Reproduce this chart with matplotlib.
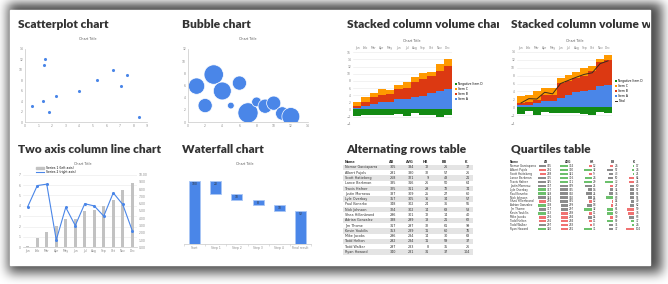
import numpy as np
import matplotlib.pyplot as plt
from matplotlib.patches import Rectangle
from matplotlib.lines import Line2D

W, H = 668, 284
BLUE = '#4a86e8'
GREEN = '#138a13'
ORANGE = '#ff9900'
RED = '#dc3912'
TXT = '#888888'

#--------------------
# data

scatter_x = [0.5, 1.4, 1.5, 1.35, 1.75, 2.3, 4.0, 5.3, 6.5, 7.1, 7.5, 8.4]
scatter_y = [3, 11, 12, 4, 2, 5, 6, 8, 10, 7, 9, 1]

bubble_x = [1, 2, 3, 4, 5, 6, 7, 8, 9, 10, 11, 12]
bubble_y = [5.9, 2.7, 7.8, 5.1, 2.7, 6.4, 1.5, 3.3, 2.6, 3.1, 1.4, 0.9]
bubble_size = [53, 40, 75, 64, 9, 40, 81, 19, 40, 40, 36, 64]

months = ['Jan', 'Feb', 'Mar', 'Apr', 'May', 'Jun',
          'Jul', 'Aug', 'Sep', 'Oct', 'Nov', 'Dec']

vol_a = [0.3, 0.9, 1.6, 2.0, 2.2, 3.0, 3.0, 3.5, 3.7, 4.5, 5.1, 5.7]
vol_b = [0.6, 1.3, 1.9, 2.0, 2.1, 2.6, 3.1, 4.1, 4.9, 5.0, 5.8, 6.5]
vol_c = [1.2, 1.3, 1.1, 1.6, 1.1, 1.2, 1.6, 1.5, 1.5, 1.1, 1.7, 1.9]
vol_d = [-1.9, -1.6, -1.6, -1.7, -1.5, -1.2, -1.9, -1.1, -1.5, -1.6, -2.2, -1.6]

tot_a = [0.5, 0.7, 1.1, 1.7, 1.7, 2.3, 3.0, 3.8, 4.0, 4.4, 5.3, 5.7]
tot_b = [0.6, 0.6, 0.8, 1.5, 1.3, 3.8, 3.7, 3.6, 4.0, 4.8, 6.1, 6.2]
tot_c = [1.7, 1.9, 2.1, 1.8, 1.9, 1.4, 1.5, 1.5, 1.9, 1.3, 0.8, 1.3]
tot_d = [-1.7, -1.0, -1.9, -1.2, -1.5, -1.5, -1.4, -1.3, -1.6, -1.8, -1.2, -1.5]

series1 = [0.1, 0.9, 1.5, 2.1, 2.7, 2.7, 3.5, 3.6, 4.0, 4.6, 5.5, 6.2]
series2 = [5.6, 8.5, 8.7, 1.0, 5.5, 3.0, 6.0, 5.7, 4.3, 7.5, 5.9, 2.3]

wf_labels = ['Start', 'Step 1', 'Step 2', 'Step 3', 'Step 4', 'Final result']
wf_start = 100
wf_steps = [-20, -10, -8, -10]

names = ['Nomar Garciaparra', 'Albert Pujols', 'Scott Hatteberg', 'Lance Berkman',
         'Travis Hafner', 'Justin Morneau', 'Lyle Overbay', 'Paul Konerko',
         'Nick Johnson', 'Shea Hillenbrand', 'Adrian Gonzalez', 'Jim Thome',
         'Kevin Youkilis', 'Mike Jacobs', 'Todd Helton', 'Todd Walker', 'Ryan Howard']
ab = [305, 291, 268, 335, 325, 337, 357, 348, 324, 296, 338, 317, 353, 296, 292, 297, 340]
avg = [334, 330, 321, 316, 311, 309, 305, 302, 302, 301, 299, 297, 289, 284, 284, 283, 281]
hr = [12, 32, 9, 26, 29, 25, 16, 24, 14, 12, 18, 32, 11, 14, 11, 8, 31]
bb = [26, 57, 43, 50, 72, 27, 34, 36, 63, 14, 21, 61, 60, 30, 59, 35, 37]
k = [17, 26, 21, 64, 74, 60, 57, 56, 53, 40, 62, 99, 76, 63, 37, 26, 104]
stat_cols = ['AB', 'AVG', 'HR', 'BB', 'K']


#--------------------
# helpers

def px_axes(x0, y0, x1, y1):
    return fig.add_axes([x0 / W, 1 - y1 / H, (x1 - x0) / W, (y1 - y0) / H])


def tiny(ax, spines=('left', 'bottom')):
    ax.tick_params(labelsize=2.2, length=0, pad=1.5, colors=TXT)
    for name, s in ax.spines.items():
        s.set_visible(name in spines)
        s.set_color('#c8c8c8')
        s.set_linewidth(0.5)


def hgrid(ax):
    ax.grid(axis='y', color='#e8e8e8', linewidth=0.4)
    ax.set_axisbelow(True)


def small_title(x, y, s='Chart Title'):
    bg.text(x, y, s, fontsize=2.4, color='#555555', ha='center', va='center')


def big_title(x, y, s, clip_x=None):
    t = bg.text(x, y, s, fontsize=8.6, fontweight='heavy', color='#333333',
                family='Lato', va='baseline', ha='left')
    if clip_x is not None:
        t.set_clip_on(True)
        t.set_clip_path(Rectangle((0, 0), clip_x, H, transform=bg.transData))


def volume(ax, a, b, c, d):
    x = np.arange(len(months))
    a, b, c = np.array(a), np.array(b), np.array(c)
    ax.bar(x, d, width=1, color=GREEN, linewidth=0, label='Negative Item D')
    ax.bar(x, a, width=1, color=BLUE, linewidth=0, label='Item A')
    ax.bar(x, b, width=1, bottom=a, color=RED, linewidth=0, label='Item B')
    ax.bar(x, c, width=1, bottom=a + b, color=ORANGE, linewidth=0, label='Item C')
    ax.set_xlim(-0.5, len(months) - 0.5)
    ax.set_xticks(x, months)
    ax.xaxis.tick_top()
    hgrid(ax)
    tiny(ax, spines=())


#--------------------
# figure + card

fig = plt.figure(figsize=(W / 100, H / 100), dpi=100)
bg = fig.add_axes([0, 0, 1, 1])
bg.set_xlim(0, W)
bg.set_ylim(H, 0)
bg.axis('off')

yy, xx = np.mgrid[0:H, 0:W]
mask = ((xx >= 8) & (xx < 662) & (yy >= 2) & (yy < 273)).astype(float)
kern = np.ones(11) / 11
for _ in range(3):
    mask = np.apply_along_axis(lambda r: np.convolve(r, kern, mode='same'), 1, mask)
    mask = np.apply_along_axis(lambda r: np.convolve(r, kern, mode='same'), 0, mask)
shadow = np.zeros((H, W, 4))
shadow[..., 3] = mask * 0.7
bg.imshow(shadow, extent=(0, W, H, 0), aspect='auto', interpolation='bilinear')
bg.add_patch(Rectangle((10, 10), 640, 255, color='white', zorder=2))

# card titles
big_title(18, 27.5, 'Scatterplot chart')
big_title(182, 27.5, 'Bubble chart')
big_title(347, 27.5, 'Stacked column volume chart', clip_x=499)
big_title(511, 27.5, 'Stacked column volume with total line chart', clip_x=650)
big_title(18, 153, 'Two axis column line chart')
big_title(182, 153, 'Waterfall chart')
big_title(346, 153, 'Alternating rows table')
big_title(511, 153, 'Quartiles table')

#--------------------
# scatterplot

small_title(88, 39.5)
ax = px_axes(25, 49, 147, 122)
ax.scatter(scatter_x, scatter_y, s=5, color=BLUE, linewidths=0)
ax.set_xlim(0, 9)
ax.set_ylim(0, 14)
ax.set_xticks(range(10))
ax.set_yticks(range(0, 15, 2))
tiny(ax)

#--------------------
# bubble

small_title(248, 39.5)
ax = px_axes(188, 49, 308, 122)
ax.scatter(bubble_x, bubble_y, s=np.array(bubble_size) * 2.6, color=BLUE,
           edgecolor='white', linewidths=0.5)
ax.set_xlim(0, 14)
ax.set_ylim(0, 12)
ax.set_xticks(range(0, 15, 2))
ax.set_yticks(range(0, 13, 2))
tiny(ax)

#--------------------
# stacked column volume

small_title(412, 41)
ax = px_axes(353, 52.3, 452, 123.7)
volume(ax, vol_a, vol_b, vol_c, vol_d)
ax.set_ylim(-4, 16)
ax.set_yticks(range(-4, 17, 2))
h, l = ax.get_legend_handles_labels()
ax.legend([h[0], h[3], h[2], h[1]], [l[0], l[3], l[2], l[1]], loc='center left',
          bbox_to_anchor=(1.0, 0.45), fontsize=2.2, frameon=False,
          handlelength=0.8, handleheight=0.6, labelspacing=0.3, handletextpad=0.3)

#--------------------
# stacked column volume with total line

small_title(575, 41)
ax = px_axes(517, 51.7, 612, 123.3)
volume(ax, tot_a, tot_b, tot_c, tot_d)
total = np.array(tot_a) + np.array(tot_b) + np.array(tot_c) + np.array(tot_d)
ax.plot(np.arange(len(months)), total, color='#3b2a1e', linewidth=0.7, label='Total')
ax.set_ylim(-4, 14)
ax.set_yticks(range(-4, 15, 2))
h, l = ax.get_legend_handles_labels()
ax.legend([h[1], h[4], h[3], h[2], h[0]], [l[1], l[4], l[3], l[2], l[0]],
          loc='center left', bbox_to_anchor=(1.0, 0.45), fontsize=2.2,
          frameon=False, handlelength=0.8, handleheight=0.6,
          labelspacing=0.3, handletextpad=0.3)

#--------------------
# two axis column line

small_title(83, 164.3)
ax = px_axes(23, 174.7, 137, 247.3)
x = np.arange(len(months))
ax.bar(x, series1, width=0.35, color='#c2c2c2', linewidth=0)
ax.set_xlim(-0.5, 11.5)
ax.set_ylim(0, 7)
ax.set_yticks(range(8))
ax.set_xticks(x, months)
hgrid(ax)
tiny(ax, spines=('bottom',))
ax2 = ax.twinx()
ax2.plot(x, series2, color=BLUE, linewidth=0.8, marker='o', markersize=1.2)
ax2.set_ylim(0, 10)
ax2.set_yticks(range(11), ['%.2f' % v for v in range(11)])
tiny(ax2, spines=())
ax.legend([Rectangle((0, 0), 1, 1, color='#c2c2c2'), Line2D([], [], color=BLUE, linewidth=0.8)],
          ['Series 1 (left axis)', 'Series 2 (right axis)'], loc='lower left',
          bbox_to_anchor=(0.1, 0.985), fontsize=2.2, frameon=False, handlelength=2.5,
          labelspacing=0.1, borderpad=0.0, handleheight=0.5)

#--------------------
# waterfall

small_title(245, 164)
ax = px_axes(184, 175, 311, 244.3)
levels = np.cumsum([wf_start] + wf_steps)
final = levels[-1]
bottoms = [0] + list(levels[1:]) + [0]
heights = [wf_start] + [-s for s in wf_steps] + [final]
labels = [wf_start] + [-s for s in wf_steps] + [final]
xw = np.arange(len(wf_labels))
ax.bar(xw, heights, bottom=bottoms, width=0.52, color=BLUE, edgecolor='#a9c6f5', linewidth=0.6)
for xi, b, hh, lab in zip(xw, bottoms, heights, labels):
    ax.text(xi, b + hh - 1.5, str(lab), fontsize=2.2, ha='center', va='top', color='#333333')
ax.set_xlim(-0.5, 5.5)
ax.set_ylim(0, 109.5)
ax.set_xticks(xw, wf_labels)
ax.set_xticks(np.arange(-0.5, 6, 1), minor=True)
ax.set_yticks([])
tiny(ax, spines=('bottom',))
ax.tick_params(axis='x', which='minor', length=1.2, color='#c8c8c8', width=0.4)

#--------------------
# alternating rows table

ax = px_axes(340, 157, 478, 255.5)
ax.set_xlim(340, 478)
ax.set_ylim(255.5, 157)
ax.axis('off')
row_h = 5.3
y0 = 162
col_right = [396, 414, 429, 448, 470]
ax.text(345, y0, 'Name', fontsize=2.4, fontweight='bold', va='center', color='#333333')
for cx, cname in zip(col_right, stat_cols):
    ax.text(cx - 4, y0, cname, fontsize=2.4, fontweight='bold', va='center', ha='center', color='#333333')
table_vals = [ab, avg, hr, bb, k]
for i, nm in enumerate(names):
    yr = y0 + (i + 1) * row_h
    if i % 2 == 0:
        ax.add_patch(Rectangle((343, yr - row_h / 2), 130, row_h, color='#e4e4e4', linewidth=0))
    ax.text(345, yr, nm, fontsize=2.4, va='center', color='#333333', clip_on=True)
    for cx, col in zip(col_right, table_vals):
        ax.text(cx, yr, str(col[i]), fontsize=2.4, va='center', ha='right', color='#333333', clip_on=True)

#--------------------
# quartiles table

ax = px_axes(505, 157, 650, 240)
ax.set_xlim(505, 650)
ax.set_ylim(240, 157)
ax.axis('off')
row_h = 3.95
y0 = 162
bar_end = [545.7, 567.7, 591.7, 613.3, 634.3]
ax.text(510, y0, 'Name', fontsize=2.0, fontweight='bold', va='center', color='#333333')
for bx, cname in zip(bar_end, stat_cols):
    ax.text(bx, y0, cname, fontsize=2.0, fontweight='bold', va='center', ha='center', color='#333333')
for j, col in enumerate(table_vals):
    col = np.array(col)
    q1, q3 = np.percentile(col, [25, 75])
    for i, v in enumerate(col):
        yr = y0 + (i + 1) * row_h
        good, bad = v >= q3, v <= q1
        if stat_cols[j] == 'K':
            good, bad = bad, good
        c = '#6cc06c' if good else ('#f07272' if bad else '#8c8c8c')
        wbar = v / col.max() * 8
        ax.add_patch(Rectangle((bar_end[j] - wbar, yr - 1.2), wbar, 2.4, color=c, linewidth=0))
        ax.text(bar_end[j] + 1.2, yr, str(v), fontsize=2.0, va='center', ha='left', color='#333333')
for i, nm in enumerate(names):
    ax.text(510, y0 + (i + 1) * row_h, nm, fontsize=2.0, va='center', color='#333333')

plt.savefig('out.png', dpi=100)
